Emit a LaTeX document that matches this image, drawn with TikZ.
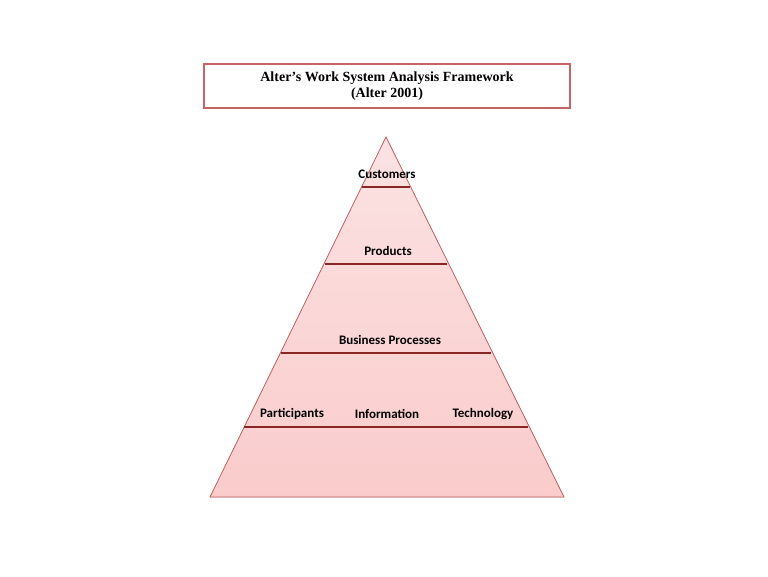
\documentclass[tikz,border=0pt]{standalone}
\usepackage{fontspec}
\setmainfont{Liberation Serif}
\newfontfamily\lbl{Carlito}
\begin{document}
\begin{tikzpicture}[x=1pt,y=-1pt,
  lab/.style={font=\lbl\bfseries\fontsize{13}{15}\selectfont,inner sep=0pt},
  sep/.style={draw=red!45!black!85,line width=2.5pt}]
\definecolor{pinkf}{RGB}{250,214,214}
\definecolor{edge}{RGB}{196,100,100}
\useasboundingbox (0,0) rectangle (768,576);
\node[draw=edge,line width=1.5pt,minimum width=366pt,minimum height=44pt,align=center,
  font=\bfseries\fontsize{14}{16}\selectfont] (title) at (387,86)
  {Alter's Work System Analysis Framework\\(Alter 2001)};
\coordinate (apex) at (386,137);
\coordinate (bl) at (210,497);
\coordinate (br) at (564,497);
\fill[top color=pinkf!70!white,bottom color=pinkf!95!red] (apex)--(bl)--(br)--cycle;
\draw[edge,line width=0.8pt] (apex)--(bl)--(br)--cycle;
\foreach \yy in {187,264,353,427}{
  \pgfmathsetmacro\dx{0.4917*(\yy-137)}
  \draw[sep] ({386-\dx+1},\yy) -- ({386+\dx-1},\yy);}
\node[lab] (c) at (387,174) {Customers};
\node[lab] (p) at (388,251) {Products};
\node[lab] (b) at (390,340) {Business Processes};
\node[lab] (pa) at (292,414) {Participants};
\node[lab] (i) at (387,414) {Information};
\node[lab] (t) at (483,414) {Technology};
\end{tikzpicture}
\end{document}
